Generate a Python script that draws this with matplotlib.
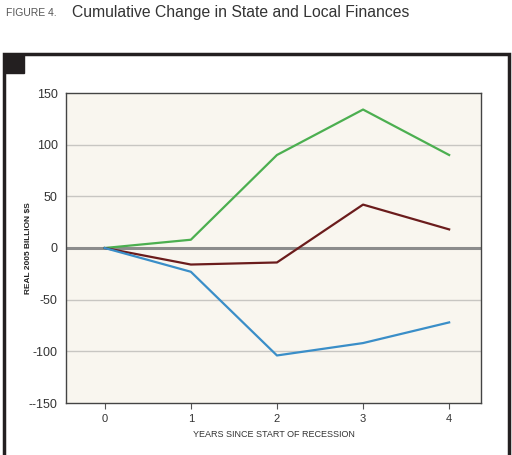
import matplotlib.pyplot as plt
from matplotlib.patches import Rectangle

plt.rcParams['font.family'] = ['Liberation Sans', 'DejaVu Sans']

years = [0, 1, 2, 3, 4]
green_vals = [0, 8, 90, 134, 90]
red_vals = [0, -16, -14, 42, 18]
blue_vals = [0, -23, -104, -92, -72]
yticks = [150, 100, 50, 0, -50, -100, -150]
ytick_labels = ['150', '100', '50', '0', '-50', '-100', '--150']

fig = plt.figure(figsize=(5.12, 4.55), dpi=100)

# outer frame and corner block
fig.patches.append(Rectangle((4 / 512, -0.05), 505 / 512, 1 - 54 / 455 + 0.05,
                             transform=fig.transFigure, fill=False,
                             edgecolor='#231f20', lw=2.5))
fig.patches.append(Rectangle((4 / 512, 1 - 73 / 455), 20 / 512, 19 / 455,
                             transform=fig.transFigure, color='#231f20'))

fig.text(6 / 512, 1 - 13 / 455, 'FIGURE 4.', fontsize=7.5, color='#555555', va='center')
fig.text(72 / 512, 1 - 12 / 455, 'Cumulative Change in State and Local Finances',
         fontsize=11.3, color='#333333', va='center')

ax = fig.add_axes([66 / 512, 52 / 455, 415 / 512, 310 / 455])
ax.set_facecolor('#f9f6ef')

for v in [100, 50, -50, -100]:
    ax.axhline(v, color='#c8c6c2', lw=1, zorder=1)
ax.axhline(0, color='#8c8c8c', lw=2.2, zorder=1)

ax.plot(years, green_vals, color='#4caf50', lw=1.6, zorder=3)
ax.plot(years, red_vals, color='#6b1c1c', lw=1.6, zorder=3)
ax.plot(years, blue_vals, color='#3a8ec8', lw=1.6, zorder=3)

ax.set_xlim(-0.45, 4.37)
ax.set_ylim(-150, 150)
ax.set_xticks(years)
ax.set_yticks(yticks)
ax.set_yticklabels(ytick_labels)
ax.tick_params(axis='y', length=0, labelsize=9, colors='#333333', pad=6)
ax.tick_params(axis='x', length=4, direction='out', labelsize=8, colors='#333333',
               pad=4, color='#555555')

for s in ax.spines.values():
    s.set_color('#444444')
    s.set_linewidth(1)

ax.set_xlabel('YEARS SINCE START OF RECESSION', fontsize=6.5, color='#333333', labelpad=4)
ax.set_ylabel('REAL 2005 BILLION $S', fontsize=6, color='#222222', fontweight='bold')
ax.yaxis.set_label_coords(-0.082, 0.5)

fig.savefig('out.png', dpi=100)
